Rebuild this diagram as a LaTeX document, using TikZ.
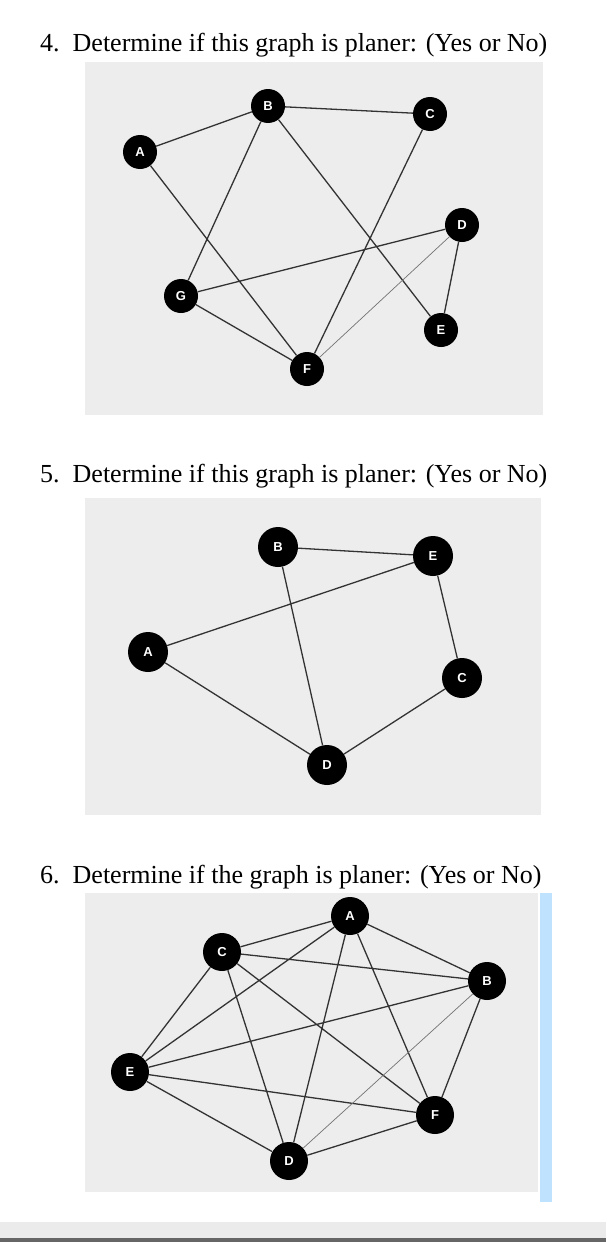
\documentclass[tikz,border=0pt]{standalone}
\usepackage{fontspec}
\setmainfont{Liberation Serif}
\newfontfamily\vertexfont{Liberation Sans}
\usetikzlibrary{positioning}
\begin{document}
\begin{tikzpicture}[x=1pt,y=-1pt,
  vertex/.style={circle,fill=black,inner sep=0pt,minimum size=#1,text=white,font=\vertexfont\bfseries\fontsize{13}{13}\selectfont},
  link/.style={line width=1.3pt,black!80},
  faint/.style={line width=0.7pt,black!55},
  panel/.style={fill=black!7,draw=none},
  heading/.style={anchor=west,inner sep=0pt,font=\fontsize{26}{30}\selectfont}]
\useasboundingbox (0,0) rectangle (606,1242);
\fill[white] (0,0) rectangle (606,1242);
% question 4
\node[heading] (q4) at (40,45) {4.\ \ Determine if this graph is planer: (Yes or No)};
\fill[panel] (85,62) rectangle (543,415);
\begin{scope}[every node/.style={vertex=34pt}]
  \node (A) at (140,152) {A};
  \node (B) at (268,106) {B};
  \node (C) at (430,114) {C};
  \node (D) at (462,225) {D};
  \node (G) at (181,296) {G};
  \node (E) at (441,330) {E};
  \node (F) at (307,369) {F};
\end{scope}
\draw[link] (A) -- (B) (B) -- (C) (A) -- (F) (B) -- (G) (B) -- (E)
  (C) -- (F) (G) -- (D) (G) -- (F) (D) -- (E);
\draw[faint] (D) -- (F);
% question 5
\node[heading] (q5) at (40,476) {5.\ \ Determine if this graph is planer: (Yes or No)};
\fill[panel] (85,498) rectangle (541,815);
\begin{scope}[every node/.style={vertex=40pt}]
  \node (A2) at (148,652) {A};
  \node (B2) at (278,547) {B};
  \node (E2) at (433,556) {E};
  \node (C2) at (462,678) {C};
  \node (D2) at (327,765) {D};
\end{scope}
\draw[link] (B2) -- (E2) (A2) -- (E2) (E2) -- (C2) (C2) -- (D2)
  (A2) -- (D2) (B2) -- (D2);
% question 6
\node[heading] (q6) at (40,877) {6.\ \ Determine if the graph is planer: (Yes or No)};
\fill[panel] (85,893) rectangle (538,1192);
\fill[blue!45!cyan!25] (540,893) rectangle (552,1202);
\begin{scope}[every node/.style={vertex=38pt}]
  \node (A3) at (350,916) {A};
  \node (C3) at (222,952) {C};
  \node (B3) at (487,981) {B};
  \node (E3) at (130,1072) {E};
  \node (F3) at (435,1115) {F};
  \node (D3) at (289,1161) {D};
\end{scope}
\draw[link] (A3) -- (C3) (A3) -- (E3) (A3) -- (D3) (A3) -- (F3) (A3) -- (B3)
  (C3) -- (B3) (C3) -- (E3) (C3) -- (D3) (C3) -- (F3)
  (B3) -- (E3) (B3) -- (F3) (E3) -- (F3) (E3) -- (D3) (D3) -- (F3);
\draw[faint] (B3) -- (D3);
\fill[black!8] (0,1222) rectangle (606,1238);
\fill[black!60] (0,1238) rectangle (606,1242);
\end{tikzpicture}
\end{document}
